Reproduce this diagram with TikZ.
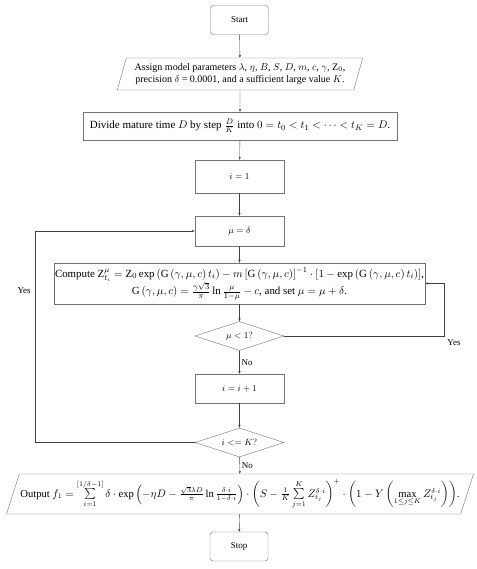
\documentclass[tikz,border=0pt]{standalone}
\usepackage{amsmath}
\usepackage{fontspec}
\setmainfont{Liberation Serif}
\usetikzlibrary{shapes.geometric,arrows.meta}

\tikzset{
  box/.style={draw=black!55, rectangle, minimum width=89pt, inner sep=1pt, align=center},
  term/.style={box, rounded corners=3pt, minimum width=58pt, minimum height=29pt},
  io/.style={draw=black!55, trapezium, trapezium stretches=true, align=center, inner sep=1pt},
  test/.style={draw=black!55, diamond, aspect=3.1, minimum width=89pt, minimum height=29pt, inner sep=0pt},
  flow/.style={draw=black!75, ->, >={Stealth[length=3pt,width=2.2pt]}}
}

\begin{document}
\begin{tikzpicture}[x=1pt, y=1pt, font=\small]
  \useasboundingbox (0, 0) rectangle (476, -569);

  \node[term] (start) at (239.5, -20) {Start};
  \node[io, trapezium left angle=70, trapezium right angle=110, minimum width=246pt, minimum height=32pt, font=\fontsize{10}{12}\selectfont] (assign) at (240, -74)
    {Assign model parameters $\lambda$, $\eta$, $B$, $S$, $D$, $m$, $c$, $\gamma$, $\mathrm{Z}_0$,\\
     precision $\delta$ = 0.0001, and a sufficient large value $K$.};
  \node[box, minimum width=314pt, minimum height=28pt, font=\fontsize{11}{13}\selectfont] (divide) at (240, -126)
    {Divide mature time $D$ by step $\frac{D}{K}$ into $0=t_0<t_1<\cdots<t_K=D$.};
  \node[box, minimum height=33pt] (init) at (239.5, -176.5) {$i=1$};
  \node[box, minimum height=30pt] (mu) at (239.5, -231) {$\mu=\delta$};
  \node[box, minimum width=365pt, minimum height=41pt, font=\fontsize{10.9}{13.5}\selectfont] (compute) at (239.5, -283.5)
    {Compute $\mathrm{Z}_{t_i}^{\mu}=\mathrm{Z}_0\exp\left(\mathrm{G}\left(\gamma,\mu,c\right)t_i\right)-m\left[\mathrm{G}\left(\gamma,\mu,c\right)\right]^{-1}\cdot\left[1-\exp\left(\mathrm{G}\left(\gamma,\mu,c\right)t_i\right)\right]$,\\
     $\mathrm{G}\left(\gamma,\mu,c\right)=\frac{\gamma\sqrt{3}}{\pi}\ln\frac{\mu}{1-\mu}-c$, and set $\mu=\mu+\delta$.};
  \node[test] (testmu) at (239.5, -336) {$\mu<1?$};
  \node[box, minimum height=29pt] (next) at (239.5, -388.5) {$i=i+1$};
  \node[test] (testi) at (239.5, -442.5) {$i<=K?$};
  \node[io, trapezium left angle=68, trapezium right angle=112, minimum width=463pt, minimum height=40pt, font=\fontsize{10.6}{12}\selectfont] (output) at (240, -494)
    {Output $f_1=\sum\limits_{i=1}^{[1/\delta-1]}\delta\cdot\exp\left(-\eta D-\frac{\sqrt{3}\lambda D}{\pi}\ln\frac{\delta\cdot i}{1-\delta\cdot i}\right)\cdot\left(S-\frac{1}{K}\sum\limits_{j=1}^{K}Z_{t_j}^{\delta\cdot i}\right)^{+}\cdot\left(1-Y\left(\max\limits_{1\le j\le K}Z_{t_j}^{\delta\cdot i}\right)\right)$.};
  \node[term] (stop) at (239, -546.5) {Stop};

  % main line
  \draw[flow] (start) -- (assign);
  \draw[flow] (assign) -- (divide);
  \draw[flow] (divide) -- (init);
  \draw[flow] (init) -- (mu);
  \draw[flow] (mu) -- (compute);
  \draw[flow] (compute) -- (testmu);
  \draw[flow] (testmu) -- node[right, inner sep=2pt] {No} (next);
  \draw[flow] (next) -- (testi);
  \draw[flow] (testi) -- node[right, inner sep=2pt] {No} (output);
  \draw[flow] (output) -- (stop);

  % loops
  \draw[flow] (testmu.east) -- ++(160, 0) node[below right, inner sep=3pt] {Yes} |- (compute.east);
  \draw[flow] (testi.west) -- ++(-160, 0) |- node[pos=0.36, left, inner sep=4pt] {Yes} (mu.west);
\end{tikzpicture}
\end{document}
